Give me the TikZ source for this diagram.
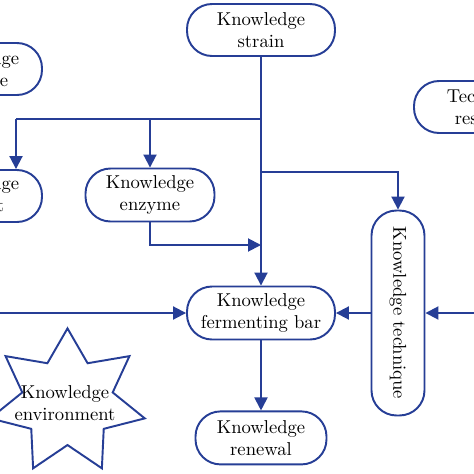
\documentclass[tikz,border=0pt]{standalone}
\usetikzlibrary{positioning,shapes,arrows.meta}
\definecolor{kblue}{RGB}{38,62,150}
\tikzstyle{object}=[rectangle, draw=kblue, line width=1.1pt, rounded corners=0.5cm, fill=white,
        text=black, align=center, minimum width=2.96cm, minimum height=1.04cm, inner sep=1pt,
        font=\fontsize{10.6}{12.5}\selectfont]
\tikzstyle{burst}=[star, star points=7, star point ratio=1.71, minimum size=2.944cm, inner sep=0pt,
        draw=kblue, line width=1.1pt, xscale=1.077, transform shape]
\tikzstyle{link}=[draw=kblue, line width=1.1pt]
\tikzstyle{flow}=[link, -{Triangle[length=2.6mm, width=2.6mm]}]

\begin{document}
\begin{tikzpicture}[x=0.02cm, y=-0.02cm, node distance=1.4cm]
        \useasboundingbox (0,0) rectangle (474,474);
        \clip (0,0) rectangle (474,474);
        \fill[white] (0,0) rectangle (474,474);

        \node (strain) [object] at (261,30) {Knowledge\\strain};
        \node (bar) [object, minimum height=1.06cm] at (261,313) {Knowledge\\fermenting bar};
        \node (renewal) [object, below=of bar, minimum width=2.62cm, minimum height=1.06cm] {Knowledge\\renewal};
        \node (enzyme) [object, minimum width=2.58cm, minimum height=1.06cm] at (150,195) {Knowledge\\enzyme};
        \node (tech) [object, rotate=-90, minimum width=4.1cm, minimum height=1.06cm] at (398,313) {Knowledge technique};
        \node (resource) [object, minimum width=2.68cm] at (-25,69) {Knowledge\\resource};
        \node (subject) [object, minimum width=2.68cm] at (-25,196) {Knowledge\\subject};
        \node (techres) [object] at (488,107) {Technique\\resource};
        \node (env) [burst] at (67.5,402) {};
        \node (envlabel) [align=center, font=\fontsize{10.6}{12.5}\selectfont] at (65,403) {Knowledge\\environment};

        % junctions on the strain line
        \coordinate (j1) at (261,119);
        \coordinate (j2) at (261,172);
        \coordinate (j3) at (261,245);
        \coordinate (k1) at (16,119);
        \coordinate (ledge) at (-5,313);
        \coordinate (redge) at (480,313);

        \draw[flow] (strain) -- (bar);
        \draw[link] (j1) -- (k1);
        \draw[flow] (k1) -- (k1 |- subject.north);
        \draw[flow] (j1) -| (enzyme);
        \draw[flow] (j2) -| (tech);
        \draw[flow] (enzyme) |- (j3);
        \draw[flow] (ledge) -- (bar);
        \draw[flow] (tech) -- (bar);
        \draw[flow] (redge) -- (tech);
        \draw[flow] (bar) -- (renewal);
      \end{tikzpicture}
\end{document}
